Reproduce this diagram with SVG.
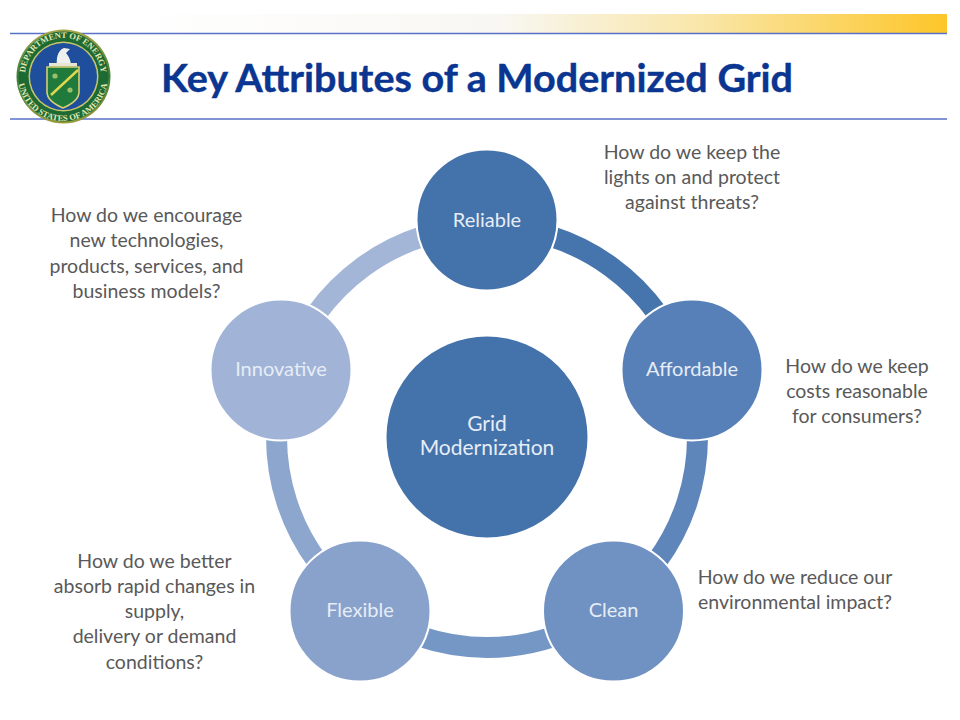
<svg xmlns="http://www.w3.org/2000/svg" width="960" height="720" viewBox="0 0 960 720">
<style>
.q{font-family:Lato,"Open Sans",sans-serif;font-size:19.5px;fill:#595959;text-anchor:middle}
.n{font-family:Lato,"Open Sans",sans-serif;font-size:20px;fill:#e6edf6;text-anchor:middle}
.c{font-family:Lato,"Open Sans",sans-serif;font-size:21px;fill:#e6edf6;text-anchor:middle}
.node{stroke:#fff;stroke-width:2}
.arc{fill:none;stroke-width:21}
.rule{stroke:#5a70c8;stroke-width:1.6}
.seal{font-family:"Liberation Serif",serif;font-size:8.6px;font-weight:bold;fill:#e4e8b0}
</style>
<defs>
<linearGradient id="band" x1="0" x2="1" y1="0" y2="0">
<stop offset="0" stop-color="#fff"/><stop offset="0.45" stop-color="#f8f7f3"/><stop offset="0.7" stop-color="#f9e6a8"/><stop offset="1" stop-color="#fdc629"/>
</linearGradient>
<linearGradient id="rim" x1="0" x2="0" y1="0" y2="1">
<stop offset="0" stop-color="#a8a548"/><stop offset="0.5" stop-color="#3d7f3a"/><stop offset="1" stop-color="#9a9a3c"/>
</linearGradient>
<path id="sealTop" d="M25 76A38 38 0 0 1 101 76"/>
<path id="sealBot" d="M18 76A45 45 0 0 0 108 76"/>
</defs>
<rect width="960" height="720" fill="#fff"/>
<rect x="130" y="14" width="817" height="19" fill="url(#band)"/>
<line class="rule" x1="10" y1="33.5" x2="947" y2="33.5"/>
<line class="rule" x1="10" y1="119" x2="947" y2="119"/>
<g id="seal">
<circle cx="63.500" cy="76.500" r="47" fill="url(#rim)"/>
<circle cx="63.500" cy="76.500" r="45" fill="#1d6a35"/>
<circle cx="63.500" cy="76.500" r="35" fill="#c9c56a"/>
<circle cx="63.500" cy="76.500" r="33.500" fill="#1f4f9c"/>
<text class="seal"><textPath href="#sealTop" startOffset="50%" text-anchor="middle">DEPARTMENT OF ENERGY</textPath></text>
<text class="seal"><textPath href="#sealBot" startOffset="50%" text-anchor="middle">UNITED STATES OF AMERICA</textPath></text>
<path d="M57 66C56 58 58 50 64 48L70 49L66 53C70 58 71 62 71 66Z" fill="#eef1ee"/>
<rect x="49" y="63" width="28" height="3.500" fill="#e8e6d0"/>
<path d="M47 67H79V92C79 100 70 105 63 108C56 105 47 100 47 92Z" fill="#1f7a3c" stroke="#d6cf70" stroke-width="1.600"/>
<path d="M51 95L78 70" stroke="#e2d84e" stroke-width="2.400" fill="none"/>
<circle cx="55" cy="76" r="2.600" fill="#9cc06a"/>
<circle cx="70" cy="90" r="2.600" fill="#9cc06a"/>
</g>
<text x="161" y="92" font-family="Lato,'Open Sans',sans-serif" font-size="39px" font-weight="700" fill="#0a3590" stroke="#0a3590" stroke-width="0.4" textLength="632" lengthAdjust="spacingAndGlyphs">Key Attributes of a Modernized Grid</text>
<g id="connectors">
<path class="arc" stroke="#4674ac" d="M487 226.500A210.500 210.500 0 0 1 687.200 372"/>
<path class="arc" stroke="#5f86bb" d="M687.200 372A210.500 210.500 0 0 1 610.700 607.300"/>
<path class="arc" stroke="#7597c6" d="M610.700 607.300A210.500 210.500 0 0 1 363.300 607.300"/>
<path class="arc" stroke="#8ca6ce" d="M363.300 607.300A210.500 210.500 0 0 1 286.800 372"/>
<path class="arc" stroke="#a3b6d8" d="M286.800 372A210.500 210.500 0 0 1 487 226.500"/>
</g>
<g id="center"><circle cx="487" cy="437" r="100.500" fill="#4472aa"/><text class="c" x="487" y="431">Grid</text><text class="c" x="487" y="455">Modernization</text></g>
<g id="reliable"><circle class="node" cx="487" cy="220" r="70.500" fill="#4472aa"/><text class="n" x="487" y="226.500">Reliable</text></g>
<g id="affordable"><circle class="node" cx="692" cy="370" r="70.500" fill="#5880b8"/><text class="n" x="692" y="376">Affordable</text></g>
<g id="clean"><circle class="node" cx="613.500" cy="611" r="70.500" fill="#7092c2"/><text class="n" x="613.500" y="617">Clean</text></g>
<g id="flexible"><circle class="node" cx="360" cy="611" r="70.500" fill="#88a2cc"/><text class="n" x="360" y="617">Flexible</text></g>
<g id="innovative"><circle class="node" cx="281" cy="370" r="70.500" fill="#a1b4d7"/><text class="n" x="281" y="376">Innovative</text></g>
<g id="questions">
<text class="q" x="692" y="158.500">How do we keep the</text>
<text class="q" x="692" y="183.500">lights on and protect</text>
<text class="q" x="692" y="208.500">against threats?</text>
<text class="q" x="857" y="372.500">How do we keep</text>
<text class="q" x="857" y="397.500">costs reasonable</text>
<text class="q" x="857" y="422.500">for consumers?</text>
<text class="q" x="795" y="584">How do we reduce our</text>
<text class="q" x="795" y="609">environmental impact?</text>
<text class="q" x="154.500" y="568">How do we better</text>
<text class="q" x="154.500" y="593">absorb rapid changes in</text>
<text class="q" x="154.500" y="618">supply,</text>
<text class="q" x="154.500" y="643">delivery or demand</text>
<text class="q" x="154.500" y="668.500">conditions?</text>
<text class="q" x="146.500" y="221.500">How do we encourage</text>
<text class="q" x="146.500" y="246.500">new technologies,</text>
<text class="q" x="146.500" y="272.500">products, services, and</text>
<text class="q" x="146.500" y="297.500">business models?</text>
</g>
</svg>
